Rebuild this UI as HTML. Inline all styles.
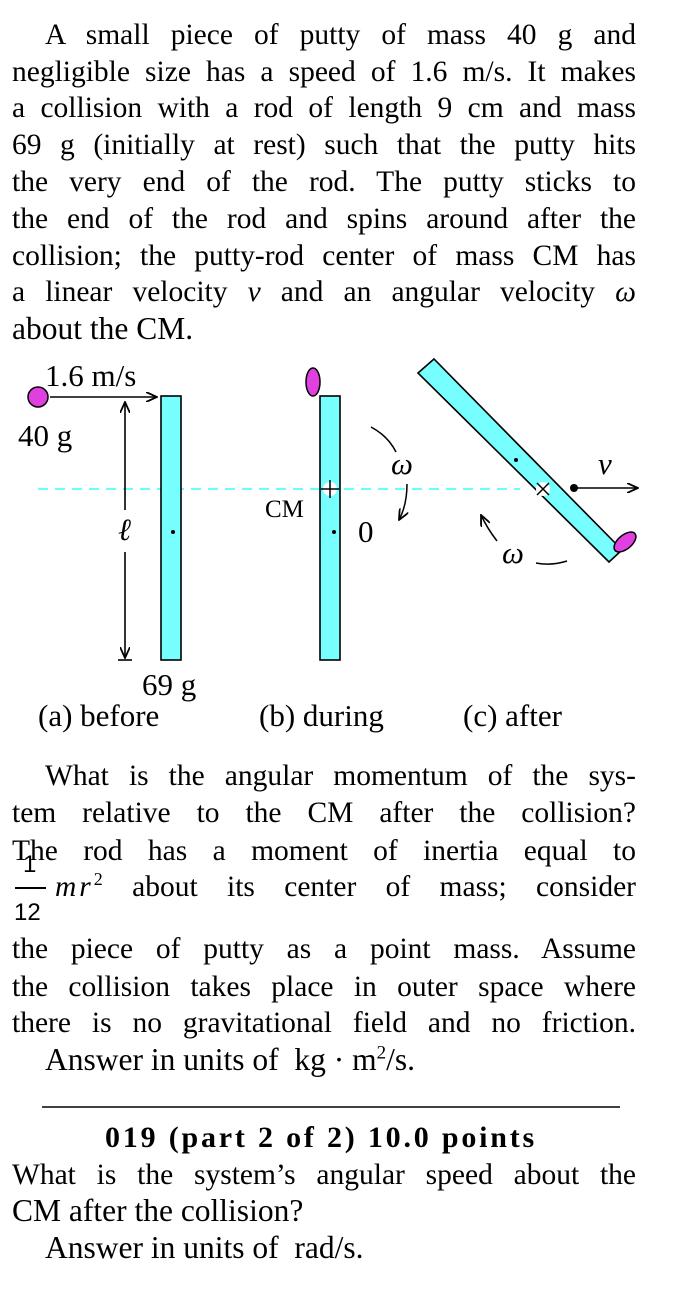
<!DOCTYPE html>
<html><head><meta charset="utf-8"><style>
body{margin:0;width:678px;height:1290px;background:#fff;position:relative;overflow:hidden;font-family:"Liberation Serif",serif;font-size:29.5px;color:#000}
.l{position:absolute;height:36px;line-height:36px;white-space:nowrap}
.n{font-size:31.5px}
.j{text-align:justify;text-align-last:justify;white-space:normal}
i{font-style:italic}
svg{position:absolute;left:0;top:0}
</style></head><body>
<div class="l j" style="left:45px;width:591px;top:17px">A small piece of putty of mass 40 g and</div>
<div class="l j" style="left:12px;width:624px;top:54px">negligible size has a speed of 1.6 m/s. It makes</div>
<div class="l j" style="left:12px;width:624px;top:90px">a collision with a rod of length 9 cm and mass</div>
<div class="l j" style="left:12px;width:624px;top:127px">69 g (initially at rest) such that the putty hits</div>
<div class="l j" style="left:12px;width:624px;top:164px">the very end of the rod. The putty sticks to</div>
<div class="l j" style="left:12px;width:624px;top:201px">the end of the rod and spins around after the</div>
<div class="l j" style="left:12px;width:624px;top:238px">collision; the putty-rod center of mass CM has</div>
<div class="l j" style="left:12px;width:624px;top:274px">a linear velocity <i>v</i> and an angular velocity <i>ω</i></div>
<div class="l n" style="left:12px;top:311px">about the CM.</div>

<svg width="678" height="1290">
<defs><marker id="ar" markerWidth="12" markerHeight="10" refX="11" refY="5" orient="auto" markerUnits="userSpaceOnUse"><path d="M0,0 L11,5 L0,10" fill="none" stroke="#000" stroke-width="1.8"/></marker></defs>
<line x1="38" y1="489" x2="520" y2="489" stroke="#6ff" stroke-width="2" stroke-dasharray="10,7"/>
<line x1="50" y1="397" x2="157" y2="397" stroke="#000" stroke-width="1.6" marker-end="url(#ar)"/>
<ellipse cx="38" cy="397" rx="10" ry="10" fill="#e040e0" stroke="#000" stroke-width="1.5"/>
<rect x="161" y="396" width="20" height="264" fill="#7ff" stroke="#000" stroke-width="1.6"/>
<circle cx="173" cy="532" r="2" fill="#000"/>
<line x1="125" y1="510" x2="125" y2="402" stroke="#000" stroke-width="1.6" marker-end="url(#ar)"/>
<line x1="125" y1="552" x2="125" y2="658" stroke="#000" stroke-width="1.6" marker-end="url(#ar)"/>
<line x1="118" y1="660" x2="132" y2="660" stroke="#000" stroke-width="1.6"/>
<rect x="320" y="396" width="20" height="264" fill="#7ff" stroke="#000" stroke-width="1.6"/>
<ellipse cx="313" cy="382" rx="7" ry="14" fill="#e040e0" stroke="#000" stroke-width="1.5"/>
<circle cx="330" cy="489" r="7" fill="#fff"/>
<line x1="330" y1="480" x2="330" y2="498" stroke="#000" stroke-width="1.5"/>
<line x1="321" y1="489" x2="339" y2="489" stroke="#000" stroke-width="1.5"/>
<circle cx="334" cy="532" r="2" fill="#000"/>
<path d="M371,427 Q388,436 396,452" fill="none" stroke="#000" stroke-width="1.5"/>
<path d="M407,484 Q407,505 399,520" fill="none" stroke="#000" stroke-width="1.5" marker-end="url(#ar)"/>
<polygon points="418,373 434,359 622,550 609,562" fill="#7ff" stroke="#000" stroke-width="1.6"/>
<ellipse cx="625" cy="542" rx="7" ry="13" transform="rotate(50 625 542)" fill="#e040e0" stroke="#000" stroke-width="1.5"/>
<circle cx="516" cy="460" r="2" fill="#000"/>
<circle cx="543" cy="489" r="7" fill="#fff"/>
<line x1="537" y1="483" x2="549" y2="495" stroke="#000" stroke-width="1.5"/>
<line x1="549" y1="483" x2="537" y2="495" stroke="#000" stroke-width="1.5"/>
<circle cx="574" cy="488" r="4" fill="#000"/>
<line x1="575" y1="488" x2="638" y2="488" stroke="#000" stroke-width="1.6" marker-end="url(#ar)"/>
<path d="M497,541 Q487,528 481,515" fill="none" stroke="#000" stroke-width="1.5" marker-end="url(#ar)"/>
<path d="M536,563 Q551,566 567,561" fill="none" stroke="#000" stroke-width="1.5"/>
<g font-family="Liberation Serif,serif" font-size="31">
<text x="45" y="386">1.6 m/s</text>
<text x="18" y="446">40 g</text>
<text x="118" y="540" font-style="italic">ℓ</text>
<text x="391" y="474" font-style="italic">ω</text>
<text x="265" y="517" font-size="25">CM</text>
<text x="358" y="542">0</text>
<text x="598" y="474" font-style="italic">v</text>
<text x="502" y="563" font-style="italic">ω</text>
<text x="142" y="695">69 g</text>
<text x="38" y="726">(a) before</text>
<text x="259" y="726">(b) during</text>
<text x="463" y="726">(c) after</text>
</g>
<line x1="15" y1="888" x2="46" y2="888" stroke="#000" stroke-width="2"/>
<line x1="42" y1="1107" x2="620" y2="1107" stroke="#000" stroke-width="1.5"/>
</svg>

<div class="l j" style="left:45px;width:591px;top:758px">What is the angular momentum of the sys-</div>
<div class="l j" style="left:12px;width:624px;top:795px">tem relative to the CM after the collision?</div>
<div class="l j" style="left:12px;width:624px;top:833px">The rod has a moment of inertia equal to</div>
<div class="l" style="left:23px;top:850px;height:30px;line-height:30px;font-family:'Liberation Sans',sans-serif;font-size:24px">1</div>
<div class="l" style="left:14px;top:898px;height:30px;line-height:30px;font-family:'Liberation Sans',sans-serif;font-size:24px">12</div>
<div class="l j" style="left:55px;width:581px;top:869px"><i style="letter-spacing:3px">mr</i><sup style="font-size:18px;line-height:0">2</sup> about its center of mass; consider</div>
<div class="l j" style="left:12px;width:624px;top:931px">the piece of putty as a point mass. Assume</div>
<div class="l j" style="left:12px;width:624px;top:969px">the collision takes place in outer space where</div>
<div class="l j" style="left:12px;width:624px;top:1005px">there is no gravitational field and no friction.</div>
<div class="l n" style="left:45px;top:1042px">Answer in units of &nbsp;kg · m<sup style="font-size:19px;line-height:0">2</sup>/s.</div>
<div class="l n" style="left:105px;top:1120px;font-weight:bold;font-size:30px;letter-spacing:2.8px">019 (part 2 of 2) 10.0 points</div>
<div class="l j" style="left:12px;width:624px;top:1157px">What is the system’s angular speed about the</div>
<div class="l n" style="left:12px;top:1193px">CM after the collision?</div>
<div class="l n" style="left:45px;top:1230px">Answer in units of &nbsp;rad/s.</div>
</body></html>
